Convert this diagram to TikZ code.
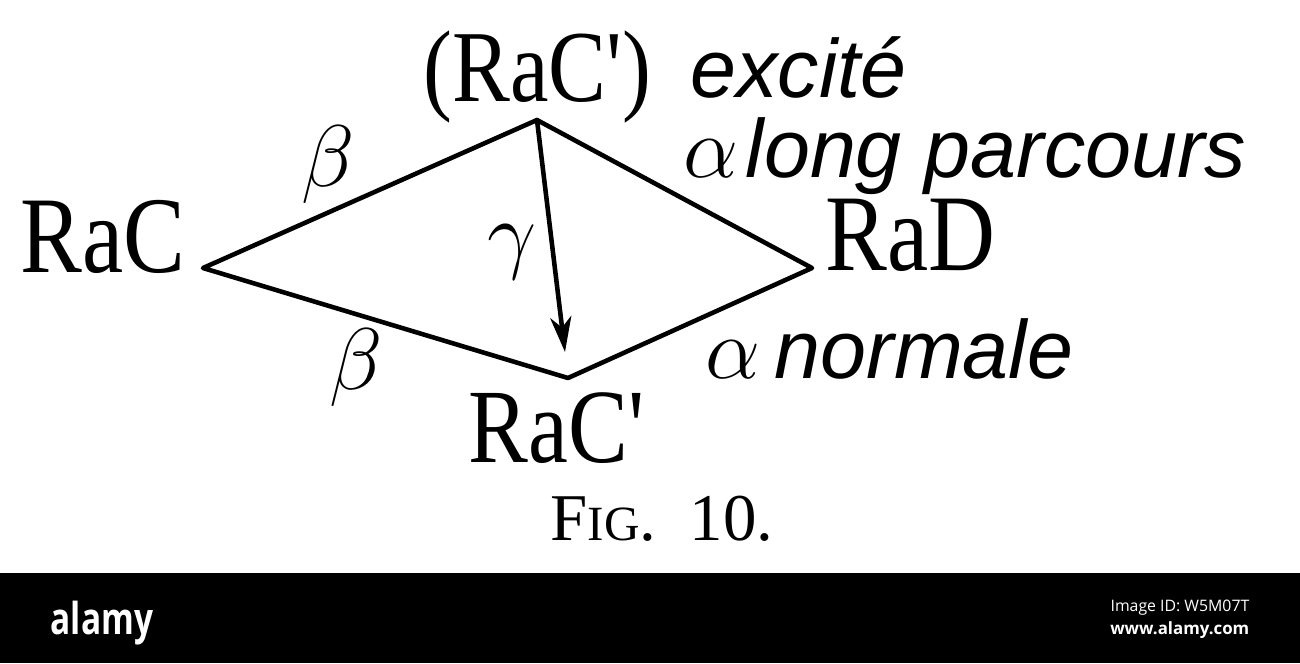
\documentclass[tikz,border=0pt]{standalone}
\usepackage{fontspec}
\setmainfont{Liberation Serif}
\newfontfamily\labelsans{Liberation Sans}
\newfontfamily\markfont{Open Sans}
\usetikzlibrary{arrows.meta}
\newcommand{\cond}[1]{\scalebox{0.85}[1]{#1}}

\begin{document}
\begin{tikzpicture}[x=0.01cm,y=-0.01cm,>={Stealth[length=10pt,width=6pt,inset=3pt]},
    edge/.style={line width=1.3pt,line cap=round,line join=round},
    sym/.style={inner sep=0,anchor=base west},
    itlabel/.style={sym,font=\labelsans\itshape\fontsize{23.5}{28}\selectfont},
    greek/.style={inner sep=0,font=\fontsize{27}{30}\selectfont},
    wmark/.style={inner sep=0,white}]
    \useasboundingbox (0,0) rectangle (1300,663);

    % the four levels
    \coordinate (left) at (203,268);
    \coordinate (top) at (537,120);
    \coordinate (right) at (812,268);
    \coordinate (bottom) at (568,378);
    \coordinate (tip) at (565,352);

    % transitions
    \draw[edge] (left) -- (top) -- (right) -- (bottom) -- cycle;
    \draw[edge,->] (top) -- (tip);

    % names of the nuclei
    \node[sym,font=\fontsize{31}{33}\selectfont] (rac) at (20,272) {\cond{RaC}};
    \node[sym,font=\fontsize{29}{31}\selectfont] (racx) at (423,101) {\cond{(RaC\textquotesingle)}};
    \node[itlabel] (exc) at (690,97) {excité};
    \node[sym,font=\fontsize{31}{33}\selectfont] (rad) at (825,270) {\cond{RaD}};
    \node[sym,font=\fontsize{30}{32}\selectfont] (racp) at (468,462) {\cond{RaC\textquotesingle}};

    % radiations
    \node[greek] (b1) at (328,165) {$\beta$};
    \node[greek] (b2) at (356,368) {$\beta$};
    \node[greek] (g) at (512,252) {$\gamma$};
    \node[greek,anchor=base west] (a1) at (683,177) {$\alpha$};
    \node[itlabel] (long) at (745,177) {long parcours};
    \node[greek,anchor=base west] (a2) at (705,378) {$\alpha$};
    \node[itlabel] (norm) at (774,378) {normale};

    % caption
    \node[sym,font=\fontsize{19}{20}\selectfont] (cap) at (550,540)
        {F{\fontsize{14}{15}\selectfont IG}. \ 10.};

    % bottom band
    \fill[black] (0,573) rectangle (1300,663);
    \node[wmark,anchor=base west,font=\markfont\bfseries\fontsize{12.5}{14}\selectfont] (logo) at (50,634) {\scalebox{0.76}[1]{alamy}};
    \node[wmark,anchor=base east,font=\markfont\fontsize{4.5}{5}\selectfont] (imgid) at (1250,611) {Image ID: W5M07T};
    \node[wmark,anchor=base east,font=\markfont\bfseries\fontsize{4.8}{5}\selectfont] (www) at (1250,634) {www.alamy.com};
\end{tikzpicture}
\end{document}
